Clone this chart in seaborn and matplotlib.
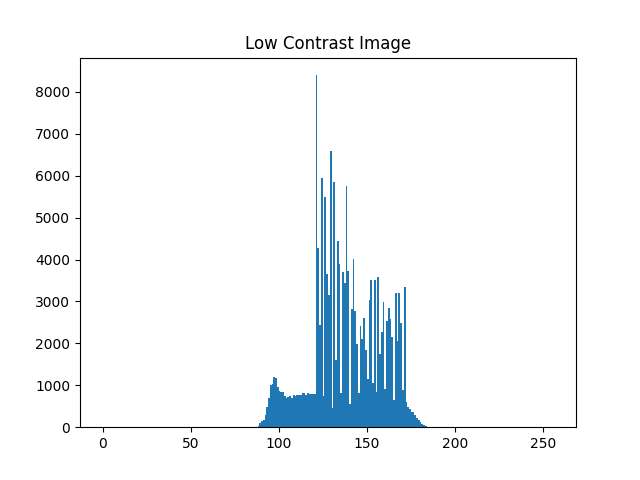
import matplotlib
matplotlib.use("Agg")
import matplotlib.pyplot as plt
import seaborn as sns
import numpy as np

start_bin = 85
counts = [5, 10, 15,
          30, 90, 140, 170, 290, 480, 690, 1000, 1030, 1190, 1170, 950,
          870, 830, 850, 740, 700, 730, 750, 700, 760, 740, 770, 770, 760,
          820, 810, 780, 820, 800, 790, 800, 800,
          8400, 4270, 2450, 5950, 740, 5490, 3660, 3160, 6590, 470, 5840,
          1600, 4440, 3890, 820, 3700, 3440, 5750, 3720, 550, 2820, 4010,
          2770, 1980, 820, 2410, 2100, 2600, 1840, 1150, 3030, 3510, 1050,
          3510, 835, 3580, 1740, 2270, 2985, 910, 2530, 2840, 2580, 2150,
          645, 3200, 2050, 3200, 2480, 880, 3340, 600, 480, 430, 360, 360,
          290, 215, 170, 120, 70, 50, 25, 15, 15, 5]
levels = list(range(start_bin, start_bin + len(counts)))

fig, ax = plt.subplots(figsize=(6.4, 4.8), dpi=100)
sns.histplot(x=levels, weights=counts, bins=256, binrange=(0, 256),
             color="#1f77b4", alpha=1, linewidth=0, ax=ax)
ax.set_xlim(-12.8, 268.8)
ax.set_ylabel("")
ax.set_title("Low Contrast Image")
fig.savefig("out.png", dpi=100)
